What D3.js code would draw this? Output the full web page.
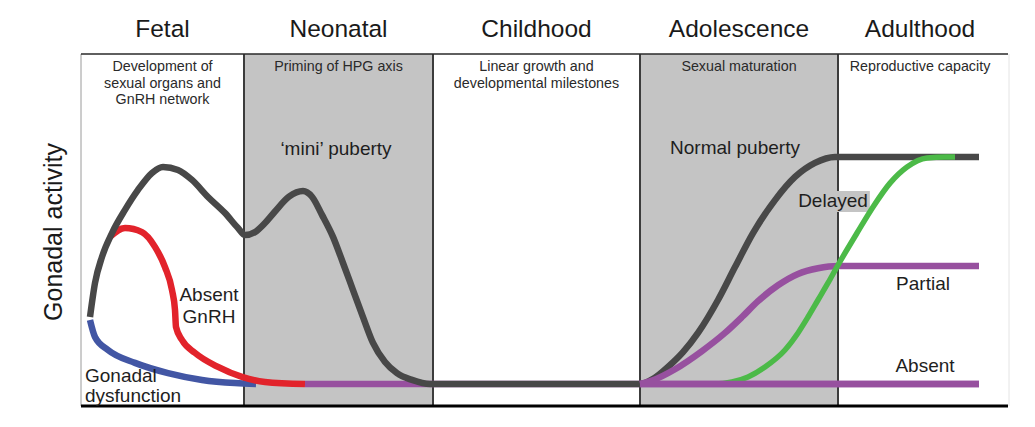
<!DOCTYPE html>
<html><head><meta charset="utf-8">
<script src="https://cdn.jsdelivr.net/npm/d3@7"></script>
<style>html,body{margin:0;padding:0;background:#fff;}svg{display:block;font-family:"Liberation Sans",Arial,sans-serif;}</style>
</head><body><svg id="c" width="1035" height="427"></svg>
<script>
// ---- data ----
const stages = ["Fetal","Neonatal","Childhood","Adolescence","Adulthood"];
const stageBounds = [0,163,352,559,757,927];          // age units
const stageShaded = [false,true,false,true,false];
const stageNotes = [
  ["Development of","sexual organs and","GnRH network"],
  ["Priming of HPG axis"],
  ["Linear growth and","developmental milestones"],
  ["Sexual maturation"],
  ["Reproductive capacity"]
];
// normal gonadal activity (age, activity 0-100)
const normalX = [9,14,21,31,44,57,71,82,97,111,127,144,157,164,174,184,194,208,222,231,241,252,262,272,282,292,304,316,331,349,559,573,587,602,617,637,654,672,694,714,734,754,898];
const normalY = [29.5,44.5,56,66.5,76.7,85.5,93,95.6,94.3,89.9,82.4,75.3,68.7,65.6,66.9,70.9,76,82.5,85,82.5,74.5,64.8,53.3,41.4,29.5,18.1,9.7,4.8,1.8,0,0,2.5,7.5,14,22.5,37,51.5,66.5,81,91.2,97.4,100,100];
const gnrhX = [29,44,61,74,84,91,94,95,101,114,137,161,184,224];
const gnrhY = [64.8,68.7,66.9,60.4,51.5,41.4,32.6,25.1,19.4,13.7,7.5,3.1,0.9,0];
const gonadX = [9,14,27,54,87,121,154,175];
const gonadY = [28.2,20.7,15,9.3,4.8,1.8,0.4,0];
const absentX = [224,898];
const absentY = [0,0];
const partialX = [559,571,594,621,644,661,677,697,717,737,757,898];
const partialY = [0,1.5,6.5,14.5,22.5,29.5,36.5,43.5,48.5,51,52,52];
const delayedX = [619,634,651,667,684,704,717,727,737,747,757,776,792,809,826,846,864,874];
const delayedY = [0,0,0.9,3.1,7.5,15,22.5,29.5,37,44.5,52.4,66.5,78,88.5,95.6,99.6,100,100];

const svg = d3.select("#c");
const W = 1035, H = 427;
const frameTop = 54, frameBottom = 406;
const x = d3.scaleLinear().domain([0,927]).range([81,1008]);
const y = d3.scaleLinear().domain([0,100]).range([384,157]);

// shaded stages
stages.forEach((s,i)=>{
  if(stageShaded[i]) svg.append("rect").attr("x",x(stageBounds[i])).attr("y",frameTop)
    .attr("width",x(stageBounds[i+1])-x(stageBounds[i])).attr("height",frameBottom-frameTop).attr("fill","#c4c4c4");
});
// frame
svg.append("line").attr("x1",x(0)).attr("x2",x(0)).attr("y1",frameTop).attr("y2",frameBottom).attr("stroke","#9a9a9a").attr("stroke-width",1);
svg.append("line").attr("x1",x(927)+1).attr("x2",x(927)+1).attr("y1",frameTop).attr("y2",frameBottom).attr("stroke","#e4e4e4").attr("stroke-width",1);
stageBounds.slice(1,-1).forEach(b=>{
  svg.append("line").attr("x1",x(b)).attr("x2",x(b)).attr("y1",frameTop).attr("y2",frameBottom).attr("stroke","#3c3c3c").attr("stroke-width",2);
});
svg.append("line").attr("x1",x(0)).attr("x2",x(927)).attr("y1",frameTop).attr("y2",frameTop).attr("stroke","#2a2a2a").attr("stroke-width",1.6);

// headers
stages.forEach((s,i)=>{
  const cx = (x(stageBounds[i])+x(stageBounds[i+1]))/2 + (i===4?-3:0);
  svg.append("text").attr("x",cx).attr("y",37).attr("text-anchor","middle").attr("font-size",24.5).attr("fill","#1a1a1a").text(s);
  stageNotes[i].forEach((t,j)=>{
    svg.append("text").attr("x",cx).attr("y",71+j*16.6).attr("text-anchor","middle").attr("font-size",14.3).attr("fill","#2a2a2a").text(t);
  });
});

// y label
svg.append("text").attr("transform","translate(62,232) rotate(-90)").attr("text-anchor","middle").attr("font-size",25).attr("fill","#1a1a1a").text("Gonadal activity");

// curves
const line = d3.line().x(d=>x(d[0])).y(d=>y(d[1])).curve(d3.curveMonotoneX);
const zip = (a,b)=>a.map((v,i)=>[v,b[i]]);
const draw = (X,Y,col,w,clip)=>{
  const p = svg.append("path").attr("d",line(zip(X,Y))).attr("fill","none").attr("stroke",col).attr("stroke-width",w).attr("stroke-linecap","butt").attr("stroke-linejoin","round");
  if(clip) p.attr("clip-path",clip);
  return p;
};
svg.append("clipPath").attr("id","adol").append("rect").attr("x",x(stageBounds[3])).attr("y",0).attr("width",W).attr("height",H);

draw(gonadX,gonadY,"#4256a4",6.5);
draw(gnrhX,gnrhY,"#e2232b",6.5);
draw(absentX,absentY,"#97509f",6.5);
draw(normalX,normalY,"#484848",6.5);
draw(partialX,partialY,"#97509f",6.5);
draw(delayedX,delayedY,"#4cba48",5.5);
draw(absentX,absentY,"#97509f",6.5,"url(#adol)");

// axis baseline
svg.append("line").attr("x1",x(0)).attr("x2",x(927)).attr("y1",frameBottom).attr("y2",frameBottom).attr("stroke","#000").attr("stroke-width",3);

// annotations
const ann = (t,cx,by,anchor)=>svg.append("text").attr("x",cx).attr("y",by).attr("text-anchor",anchor||"middle").attr("font-size",19).attr("fill","#1e1e1e").text(t);
ann("\u2018mini\u2019 puberty",336,155);
ann("Normal puberty",735,154);
const dl = ann("Delayed",833,207);
const bb = dl.node().getBBox();
svg.insert("rect","text").attr("x",bb.x-1).attr("y",bb.y+1).attr("width",bb.width+3).attr("height",bb.height).attr("fill","#c4c4c4");
ann("Partial",923,290);
ann("Absent",925,372);
ann("Absent",209,301);
ann("GnRH",209,323);
ann("Gonadal",85,382,"start");
ann("dysfunction",85,402,"start");
</script></body></html>
